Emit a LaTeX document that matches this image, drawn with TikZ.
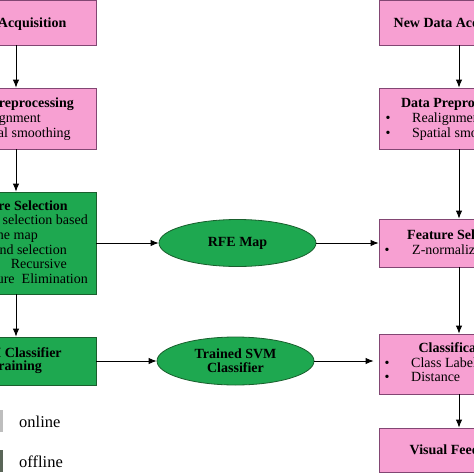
\documentclass[tikz,border=0pt]{standalone}
\usepackage{fontspec}
\setmainfont{Liberation Serif}
\usetikzlibrary{arrows.meta, shapes.geometric}
\definecolor{boxpink}{RGB}{247,160,210}
\definecolor{pinkline}{RGB}{130,70,115}
\definecolor{boxgreen}{RGB}{30,168,80}
\definecolor{greenline}{RGB}{25,95,45}
\definecolor{onlinegray}{RGB}{190,190,190}
\definecolor{offlinegray}{RGB}{90,102,88}
\begin{document}
\begin{tikzpicture}[x=1pt, y=-1pt, font=\fontsize{14}{14.5}\selectfont,
  pinkbox/.style={draw=pinkline, fill=boxpink, line width=0.8pt, minimum width=160pt, inner sep=0pt},
  greenbox/.style={draw=greenline, fill=boxgreen, line width=0.8pt, minimum width=160pt, inner sep=0pt},
  oval/.style={ellipse, draw=greenline, fill=boxgreen, line width=0.8pt, minimum width=157pt, inner sep=0pt, align=center, font=\fontsize{14}{14}\selectfont\bfseries},
  flow/.style={-{Latex[length=8pt,width=6.5pt]}, line width=0.9pt},
  txt/.style={inner sep=0pt, anchor=base},
  dot/.style={inner sep=0pt, anchor=base}]

\useasboundingbox (0,0) rectangle (474,474);
\clip (0,0) rectangle (474,474);

% offline side
\begin{scope}
\node[pinkbox, minimum height=45pt] (acq) at (16,22.5) {};
\node[pinkbox, minimum height=61pt] (prep) at (16,118.5) {};
\node[greenbox, minimum height=102pt] (feat) at (16,243) {};
\node[greenbox, minimum height=48pt] (train) at (16,361) {};

\node[txt] (acqT) at (16,27.5) {\bfseries Data Acquisition};
\node[txt] (prepT) at (16,107.5) {\bfseries Data Preprocessing};
\node[dot] (prepB1) at (-55,122.5) {\textbullet};
\node[txt, anchor=base west] (prepL1) at (-31,122.5) {Realignment};
\node[dot] (prepB2) at (-55,137.5) {\textbullet};
\node[txt, anchor=base west] (prepL2) at (-31,137.5) {Spatial smoothing};

\node[txt] (featT) at (16,210.5) {\bfseries Feature Selection};
\node[txt, anchor=base east] (featL1) at (88,224.5) {Voxel selection based};
\node[txt, anchor=base east] (featL2) at (38,239.5) {on the map};
\node[txt, anchor=base east] (featL3) at (67,254.5) {Ranking and selection};
\node[txt, anchor=base east] (featL4) at (67,268.5) {Recursive};
\node[txt, anchor=base east] (featL5) at (88,283.5) {Feature\ \ Elimination};

\node[txt] (trainT1) at (16,357.5) {\bfseries SVM Classifier};
\node[txt] (trainT2) at (16,370.5) {\bfseries Training};
\end{scope}

% models passed across
\node[oval, minimum height=47pt] (rfe) at (237.5,243) {RFE Map};
\node[oval, minimum height=48pt] (svm) at (235.5,361) {Trained SVM\\Classifier};

% online side
\begin{scope}
\node[pinkbox, minimum height=45pt] (acqR) at (459,22.5) {};
\node[pinkbox, minimum height=61pt] (prepR) at (459,118.5) {};
\node[pinkbox, minimum height=48pt] (featR) at (459,243) {};
\node[pinkbox, minimum height=60pt] (clsR) at (459,364) {};
\node[pinkbox, minimum height=44pt] (visR) at (459,450) {};

\node[txt] (acqRT) at (459,27.5) {\bfseries New Data Acquisition};
\node[txt] (prepRT) at (459,107.5) {\bfseries Data Preprocessing};
\node[dot] (prepRB1) at (388,122.5) {\textbullet};
\node[txt, anchor=base west] (prepRL1) at (412,122.5) {Realignment};
\node[dot] (prepRB2) at (388,137.5) {\textbullet};
\node[txt, anchor=base west] (prepRL2) at (412,137.5) {Spatial smoothing};

\node[txt] (featRT) at (459,239.5) {\bfseries Feature Selection};
\node[dot] (featRB1) at (387,254.5) {\textbullet};
\node[txt, anchor=base west] (featRL1) at (412,254.5) {Z-normalization};

\node[txt] (clsRT) at (459,352.5) {\bfseries Classification};
\node[dot] (clsRB1) at (387,367.5) {\textbullet};
\node[txt, anchor=base west] (clsRL1) at (411,367.5) {Class Label};
\node[dot] (clsRB2) at (387,381.5) {\textbullet};
\node[txt, anchor=base west] (clsRL2) at (411,381.5) {Distance};

\node[txt] (visRT) at (459,454.5) {\bfseries Visual Feedback};
\end{scope}

% arrows
\draw[flow] (acq) -- (prep);
\draw[flow] (prep) -- (feat);
\draw[flow] (feat) -- (train);
\draw[flow] (feat) -- (rfe);
\draw[flow] (train) -- (svm);
\draw[flow] (rfe) -- (featR);
\draw[flow, shorten >=5pt] (svm.east) -- (svm.east -| clsR.west);
\draw[flow] (acqR) -- (prepR);
\draw[flow] (prepR) -- (featR);
\draw[flow] (featR) -- (clsR);
\draw[flow] (clsR) -- (visR);

% legend
\draw[fill=onlinegray, draw=none] (-20,410) rectangle (3,432);
\draw[fill=offlinegray, draw=none] (-20,450) rectangle (3,472);
\node[txt, anchor=base west, font=\fontsize{16.5}{17}\selectfont] (online) at (19,427) {online};
\node[txt, anchor=base west, font=\fontsize{16.5}{17}\selectfont] (offline) at (19,467) {offline};

\end{tikzpicture}
\end{document}
